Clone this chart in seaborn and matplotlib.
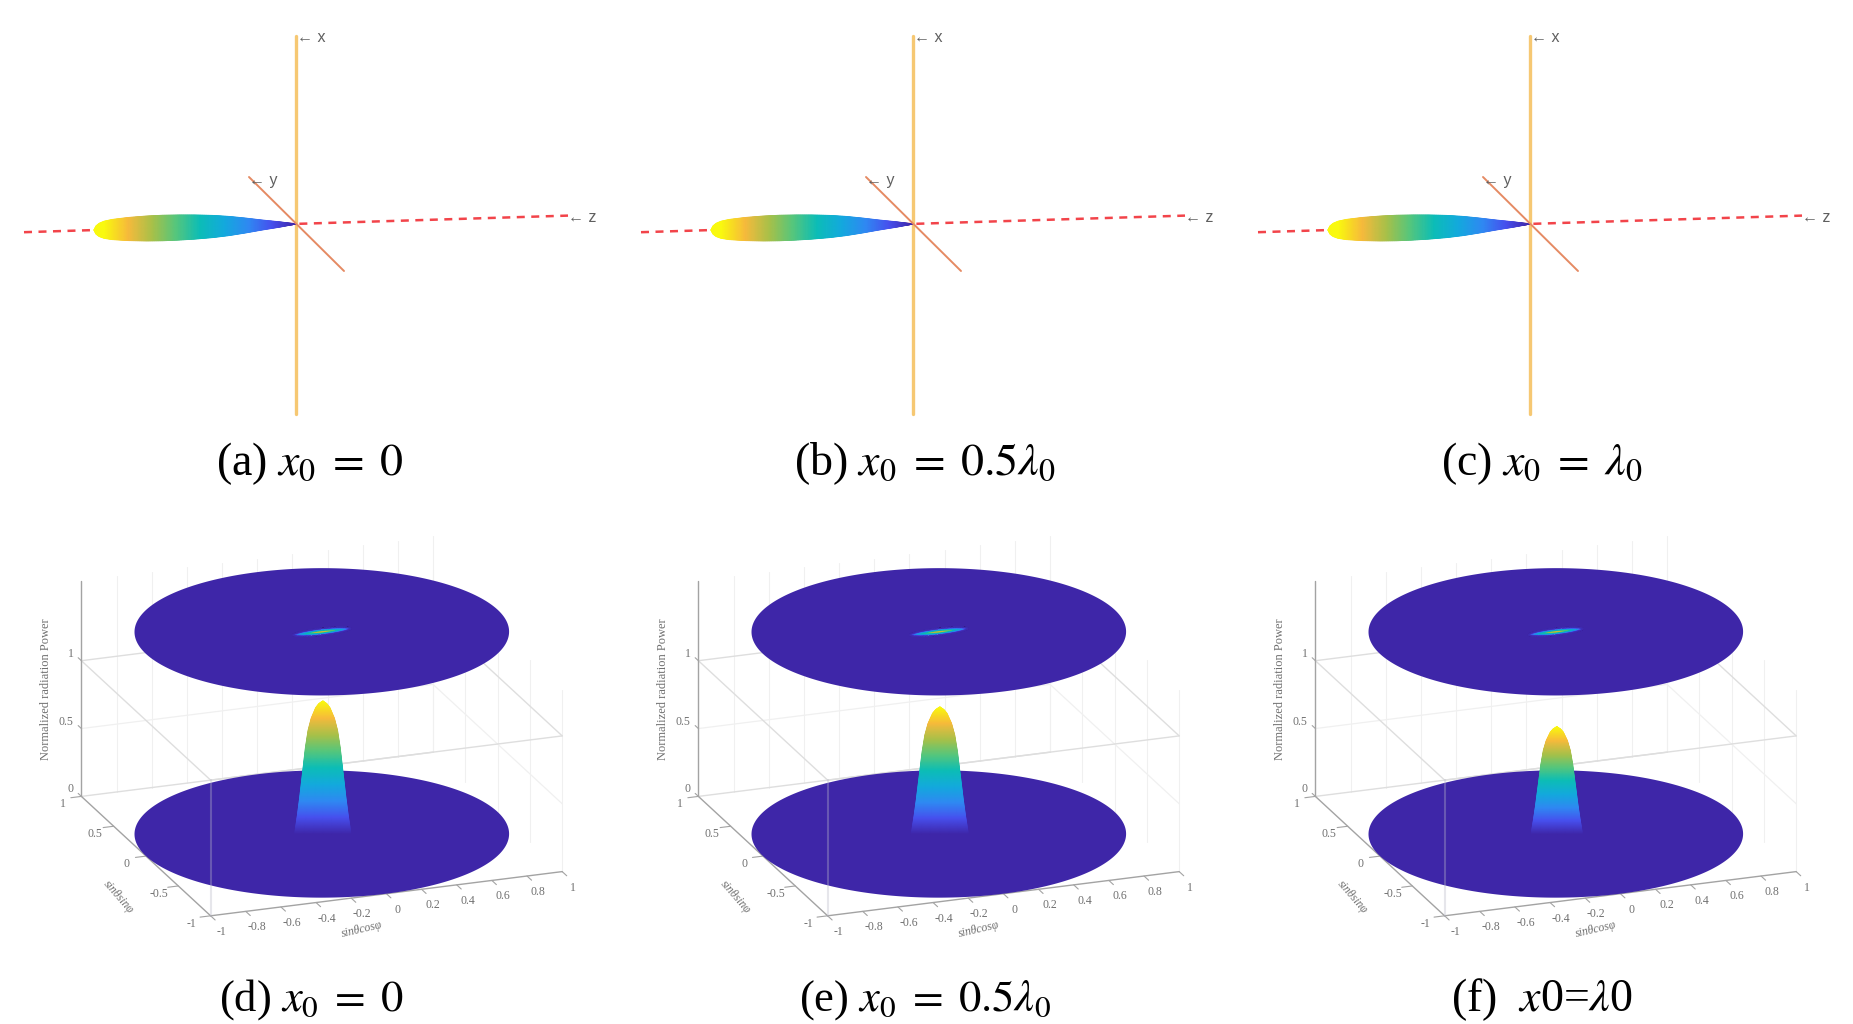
"""Radiation pattern figure: 3D beam sketches on top, normalized power below"""

import matplotlib.pyplot as plt
import numpy as np
import seaborn as sns
from matplotlib.colors import LinearSegmentedColormap

FIG_W, FIG_H = 1853, 1024

TOP_CAPTIONS = [r"(a) $x_0\;=\;0$", r"(b) $x_0\;=\;0.5\lambda_0$", r"(c) $x_0\;=\;\lambda_0$"]
BOTTOM_CAPTIONS = [r"(d) $x_0\;=\;0$", r"(e) $x_0\;=\;0.5\lambda_0$", r"(f)  $x$0=$\lambda$0"]
TOP_CAPTION_X = [309.6, 924.7, 1542]
BOTTOM_CAPTION_X = [311.4, 925.3, 1542]
CAPTION_SIZE = [32, 32, 33]

# beam axes of the top row, pixels from the crossing point
BEAM_X = [296, 913, 1530]
X_AXIS_ENDS = [-188.5, 189.5]
Y_AXIS_U = [-47, 48]
Y_AXIS_V = [-47, 47]
Z_AXIS_U = [-272, 272]
Z_AXIS_V = [8.2, -8.4]

# lobe outline: share of the length from the tip, half width in pixels
LOBE_LENGTH = 202
LOBE_S = [0, 0.08, 0.17, 0.25, 0.33, 0.41, 0.50, 0.58, 0.66, 0.74, 0.83, 0.91, 0.95, 0.975, 0.99, 1.0]
LOBE_HALF = [0, 2.6, 5, 7.4, 9.5, 11, 12, 12.5, 12.7, 12.4, 11.5, 10, 8.5, 6.5, 4, 0]

# lower row
U_TICKS = [-1, -0.8, -0.6, -0.4, -0.2, 0, 0.2, 0.4, 0.6, 0.8, 1]
V_TICKS = [1, 0.5, 0, -0.5, -1]
Z_TICKS = [0, 0.5, 1]
Z_TOP = 1.59
TOP_DISC_Z = 1.49
PEAK_Z = [0.98, 0.936, 0.79]
PEAK_U = [0.15, 0.152, 0.137]
PEAK_LEVELS = [0, 0.14, 0.27, 0.40, 0.52, 0.65, 0.78, 0.87, 0.95, 0.98, 1.0]
PEAK_WIDTH = [1.0, 0.90, 0.82, 0.75, 0.685, 0.615, 0.52, 0.41, 0.25, 0.14, 0]
SPOT_R = [0, 0.3, 0.55, 0.8, 1.0]
SPOT_VALUE = [1.0, 0.8, 0.5, 0.3, 0]
SPOT_U = [0.165, 0.165, 0.155]
SPOT_V = 0.052

# floor centre of each lower panel in figure pixels
BOX_X = [321.8, 938.8, 1555.8]
BOX_Y = 834
EX = (175.8, -22.1)
EY = (-64.6, -59.7)
EZ = 135.7

parula = LinearSegmentedColormap.from_list(
    "parula",
    ["#3e26a8", "#4750ee", "#2f8af2", "#13aadd", "#0cbdb8", "#55c67e", "#a9c049", "#f6ba3c", "#f9f90f"],
)

sns.set_theme(style="white")
plt.rcParams["font.family"] = ["Liberation Serif", "DejaVu Serif"]
plt.rcParams["mathtext.fontset"] = "stix"


def panel_axes(fig, center_x, center_y, half_w, half_h):
    """Axes that keep one data unit equal to one pixel, y pointing down."""
    ax = fig.add_axes([
        (center_x - half_w) / FIG_W,
        1 - (center_y + half_h) / FIG_H,
        2 * half_w / FIG_W,
        2 * half_h / FIG_H,
    ])
    return ax


def finish(ax, half_w, half_h):
    ax.set_xlim(-half_w, half_w)
    ax.set_ylim(half_h, -half_h)
    ax.axis("off")


def line(ax, xs, ys, color, lw=1.0, zorder=2, **kws):
    sns.lineplot(x=xs, y=ys, sort=False, estimator=None, color=color, linewidth=lw,
                 zorder=zorder, legend=False, ax=ax, **kws)


def draw_top(ax):
    line(ax, Z_AXIS_U, Z_AXIS_V, "#f2444a", lw=1.8, zorder=1, linestyle=(0, (3.2, 2.6)))
    line(ax, [0, 0], X_AXIS_ENDS, "#f6c873", lw=2.4, zorder=2)
    line(ax, Y_AXIS_U, Y_AXIS_V, "#e58a63", lw=1.4, zorder=3)

    # lobe runs along the negative z axis
    s = np.linspace(0, 1, 300)
    t = np.linspace(-1, 1, 7)
    half = np.interp(s, LOBE_S, LOBE_HALF)
    px = -s[:, None] * LOBE_LENGTH + 0 * t[None, :]
    py = s[:, None] * LOBE_LENGTH * 0.03 + half[:, None] * t[None, :]
    shade = np.clip(s * 1.05, 0, 1)
    ax.pcolormesh(px, py, shade[:, None] + 0 * t[None, :], cmap=parula, vmin=0, vmax=1,
                  shading="gouraud", zorder=2.5)

    grey = "#5f5f5f"
    sans = ["Liberation Sans", "DejaVu Sans"]
    ax.text(1, X_AXIS_ENDS[0] + 2, "← x", color=grey, fontsize=11.5, va="center", family=sans)
    ax.text(Y_AXIS_U[0], Y_AXIS_V[0] + 3, "← y", color=grey, fontsize=11.5, va="center", family=sans)
    ax.text(Z_AXIS_U[1], Z_AXIS_V[1] + 2, "← z", color=grey, fontsize=11.5, va="center", family=sans)


def project(u, v, w):
    return (EX[0] * np.asarray(u) + EY[0] * np.asarray(v),
            EX[1] * np.asarray(u) + EY[1] * np.asarray(v) - EZ * np.asarray(w))


def seg(ax, a, b, color, lw=1.0, zorder=1, **kws):
    xa, ya = project(*a)
    xb, yb = project(*b)
    line(ax, [float(xa), float(xb)], [float(ya), float(yb)], color, lw=lw, zorder=zorder, **kws)


def draw_disc(ax, w, zorder):
    ang = np.linspace(0, 2 * np.pi, 400)
    x, y = project(np.cos(ang), np.sin(ang), w)
    ax.fill(x, y, color=parula(0.0), lw=0, zorder=zorder)


def draw_box(ax):
    faint = "#f0f0f0"
    light = "#dedede"
    dark = "#a3a3a3"
    # wall grid
    for u in U_TICKS:
        seg(ax, (u, 1, 0), (u, 1, Z_TOP), faint, lw=0.8)
    for v in V_TICKS:
        seg(ax, (1, v, 0), (1, v, Z_TOP - 0.25), faint, lw=0.8)
    seg(ax, (-1, 1, 0.5), (1, 1, 0.5), faint, lw=0.9)
    seg(ax, (1, 1, 0.5), (1, -1, 0.5), faint, lw=0.9)
    # frame of the unit box
    seg(ax, (-1, 1, 1), (1, 1, 1), light)
    seg(ax, (-1, 1, 1), (-1, -1, 1), light)
    seg(ax, (1, 1, 1), (1, -1, 1), light)
    seg(ax, (-1, -1, 1), (1, -1, 1), light)
    seg(ax, (-1, 1, 0), (1, 1, 0), light)
    seg(ax, (-1, 1, 0), (-1, 1, Z_TOP), dark)
    seg(ax, (-1, 1, 0), (-1, -1, 0), dark, zorder=1.5)
    seg(ax, (-1, -1, 0), (1, -1, 0), dark, zorder=1.5)
    # this one shows through the discs
    seg(ax, (-1, -1, 0), (-1, -1, 1), "#b8b8c8", lw=1.5, zorder=4, alpha=0.35)

    for u in U_TICKS:
        seg(ax, (u, -1, 0), (u, -1.07, 0), dark, lw=0.8)
        x, y = project(u, -1, 0)
        ax.text(x + 11, y + 16, f"{u:g}", color="#707070", fontsize=8.5, ha="center", va="center")
    for v in V_TICKS:
        seg(ax, (-1, v, 0), (-1.06, v, 0), dark, lw=0.8)
        x, y = project(-1, v, 0)
        ax.text(x - 19, y + 8, f"{v:g}", color="#707070", fontsize=8.5, ha="center", va="center")
    for z in Z_TICKS:
        seg(ax, (-1, 1, z), (-1, 1.05, z), dark, lw=0.8)
        x, y = project(-1, 1, z)
        ax.text(x - 8, y - 7, f"{z:g}", color="#707070", fontsize=8.5, ha="right", va="center")

    x, y = project(0, -1, 0)
    ax.text(x - 25, y + 36, "sinθcosφ", color="#707070", fontsize=8.5, style="italic",
            ha="center", va="center", rotation=13)
    x, y = project(-1, 0, 0)
    ax.text(x - 28, y + 41, "sinθsinφ", color="#707070", fontsize=8.5, style="italic",
            ha="center", va="center", rotation=-49)
    x, y = project(-1, 1, 0.5)
    ax.text(x - 35, y - 39, "Normalized radiation Power", color="#707070", fontsize=9,
            ha="center", va="center", rotation=90)


def draw_spot(ax, spot_u):
    r = np.linspace(0, 1, 40)
    ang = np.linspace(0, 2 * np.pi, 60)
    rr, aa = np.meshgrid(r, ang, indexing="ij")
    x, y = project(rr * spot_u * np.cos(aa), rr * SPOT_V * np.sin(aa), TOP_DISC_Z)
    ax.pcolormesh(x, y, np.interp(rr, SPOT_R, SPOT_VALUE), cmap=parula, vmin=0, vmax=1,
                  shading="gouraud", zorder=3.2)


def draw_peak(ax, peak_z, peak_u):
    f = np.linspace(0, 1, 250)
    t = np.linspace(-1, 1, 7)
    half = np.interp(f, PEAK_LEVELS, PEAK_WIDTH) * peak_u * 188
    x = 1 + half[:, None] * t[None, :]
    y = -f[:, None] * peak_z * EZ + 0 * t[None, :]
    ax.pcolormesh(x, y, f[:, None] + 0 * t[None, :], cmap=parula, vmin=0, vmax=1,
                  shading="gouraud", zorder=3.5)


fig = plt.figure(figsize=(FIG_W / 100, FIG_H / 100), dpi=100, facecolor="white")

for i in range(3):
    ax = panel_axes(fig, BEAM_X[i], 224, 290, 200)
    draw_top(ax)
    finish(ax, 290, 200)
    fig.text(TOP_CAPTION_X[i] / FIG_W, 1 - 464 / FIG_H, TOP_CAPTIONS[i], fontsize=33,
             ha="center", va="center", color="black")

    ax = panel_axes(fig, BOX_X[i], BOX_Y, 300, 300)
    draw_box(ax)
    draw_disc(ax, 0, 3)
    draw_disc(ax, TOP_DISC_Z, 3)
    draw_spot(ax, SPOT_U[i])
    draw_peak(ax, PEAK_Z[i], PEAK_U[i])
    finish(ax, 300, 300)
    fig.text(BOTTOM_CAPTION_X[i] / FIG_W, 1 - 1000 / FIG_H, BOTTOM_CAPTIONS[i], fontsize=CAPTION_SIZE[i],
             ha="center", va="center", color="black")

fig.savefig("out.png", dpi=100)
plt.close(fig)
